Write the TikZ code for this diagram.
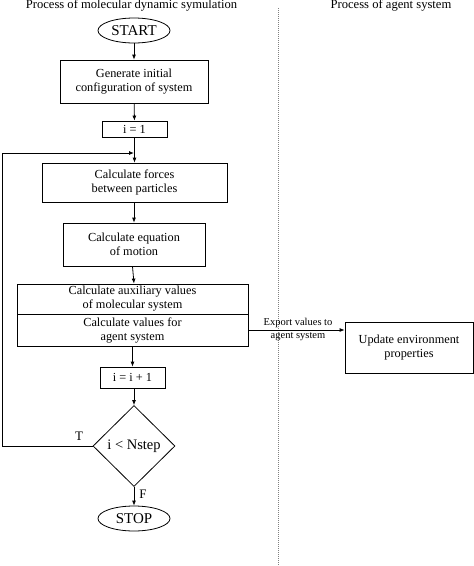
\documentclass[tikz,border=0pt]{standalone}
\usepackage{fontspec}
\setmainfont{Liberation Serif}
\usetikzlibrary{shapes.geometric,arrows.meta}
\begin{document}
\begin{tikzpicture}[x=1pt,y=-1pt,
  box/.style={draw,line width=0.8pt,inner sep=0pt,align=center,font=\fontsize{12.3}{14}\selectfont},
  term/.style={draw,ellipse,line width=0.8pt,inner sep=0pt,font=\fontsize{15}{17}\selectfont},
  arr/.style={-{Latex[length=5pt,width=4pt]},line width=0.8pt},
  lbl/.style={font=\fontsize{13}{15}\selectfont,inner sep=0pt},
  head/.style={font=\fontsize{12.6}{14}\selectfont,inner sep=0pt}]
\useasboundingbox (0,0) rectangle (474,566);
\node[head] (h1) at (131.5,5.5) {Process of molecular dynamic symulation};
\node[head] (h2) at (391,5.5) {Process of agent system};
\coordinate (dtop) at (278,8);
\coordinate (dbot) at (278,566);
\draw[gray,line width=0.6pt,dash pattern=on 1pt off 1pt] (dtop) -- (dbot);
\node[term,minimum width=72pt,minimum height=25pt] (start) at (134,30.5) {START};
\node[box,minimum width=148pt,minimum height=43pt] (gen) at (134,81.5) {Generate initial\\configuration of system};
\node[box,minimum width=65pt,minimum height=16pt] (i1) at (134.5,129) {i = 1};
\node[box,minimum width=185pt,minimum height=39pt] (forces) at (134.5,182.5) {Calculate forces\\between particles};
\node[box,minimum width=142pt,minimum height=43pt] (eq) at (134,244.5) {Calculate equation\\of motion};
\node[box,minimum width=231pt,minimum height=30pt] (aux) at (132.5,299) {Calculate auxiliary values\\of molecular system};
\node[box,minimum width=231pt,minimum height=32pt] (agv) at (132.5,330) {Calculate values for\\agent system};
\node[box,minimum width=128pt,minimum height=51pt] (upd) at (409,347.5) {Update environment\\properties};
\node[box,minimum width=65pt,minimum height=21pt] (inc) at (132.5,377.5) {i = i + 1};
\node[draw,diamond,line width=0.8pt,inner sep=0pt,minimum width=82pt,minimum height=81pt,font=\fontsize{14.5}{16}\selectfont] (dia) at (134,446) {i < Nstep};
\node[term,minimum width=72pt,minimum height=25pt] (stop) at (134,518.5) {STOP};
\coordinate (join) at (134,153);
\coordinate (loopL) at (2,446);
\draw[arr] (start) -- (gen);
\draw[arr] (gen) -- (i1);
\draw[arr] (i1.south -| forces.north) -- (forces);
\draw[arr] (forces.south -| eq.north) -- (eq);
\draw[arr] (eq.south -| aux.north) -- (aux.north -| eq.south);
\draw[arr] (agv.south -| inc.north) -- (inc);
\draw[arr] (inc.south -| dia.north) -- (dia);
\draw[arr] (dia) -- (stop);
\draw[arr] (dia.west) -- (loopL) |- (join);
\draw[arr] (agv.east) -- (agv.east -| upd.west);
\node[lbl] (t) at (79,436) {T};
\node[lbl] (f) at (143,494) {F};
\node[font=\fontsize{10.5}{12.5}\selectfont,align=center,inner sep=0pt] (exp) at (298,329.5) {Export values to\\agent system};
\end{tikzpicture}
\end{document}
